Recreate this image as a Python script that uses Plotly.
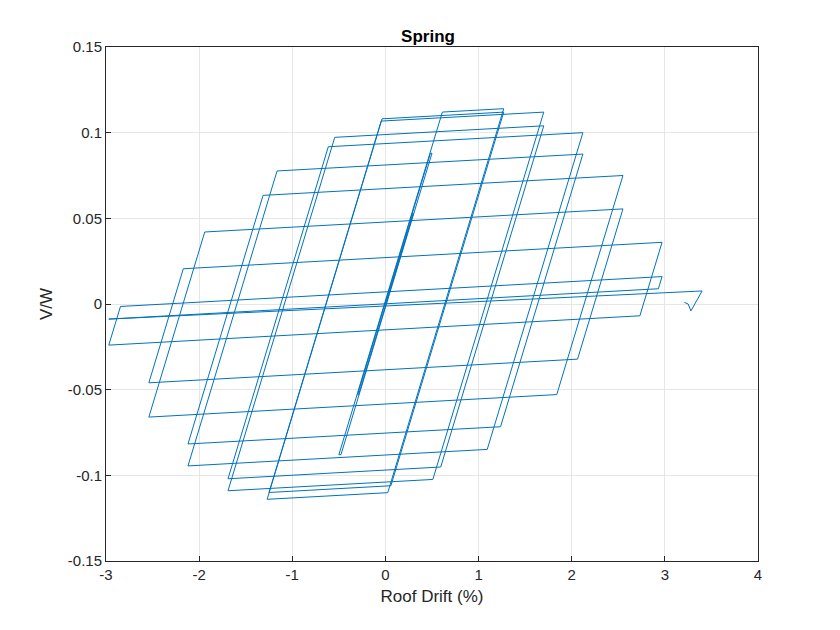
import plotly.graph_objects as go

# peak points of each half-cycle (drift %, V/W), in loading order
peak_drift = [0.3, -0.3, 0.5, -0.5,
              1.27, -1.27, 1.27, -1.25,
              1.70, -1.69, 1.70, -1.69,
              2.12, -2.12, 2.12, -2.12,
              2.55, -2.54, 2.55, -2.54,
              2.97, -2.97, 2.97, -2.97,
              3.40]
peak_v = [0.053, -0.053, 0.088, -0.088,
          0.114, -0.114, 0.112, -0.110,
          0.112, -0.109, 0.104, -0.102,
          0.100, -0.0945, 0.0875, -0.0817,
          0.075, -0.066, 0.0555, -0.046,
          0.036, -0.024, 0.016, -0.0088,
          0.0076]
tail_drift = [3.28, 3.25, 3.21]
tail_v = [-0.004, 0.0, 0.001]

K = 0.18   # elastic stiffness (V/W per % drift)
S = 0.003  # post-yield stiffness

xs, ys = [0.0], [0.0]
for xp, yp in zip(peak_drift, peak_v):
    x0, y0 = xs[-1], ys[-1]
    xi = (yp - S * xp - y0 + K * x0) / (K - S)
    if (xp - x0) * (xp - xi) > 0 and (xi - x0) * (xp - x0) > 0:
        yi = y0 + K * (xi - x0)
        xs.append(xi); ys.append(yi)
    xs.append(xp); ys.append(yp)
xs += tail_drift
ys += tail_v

fig = go.Figure(go.Scatter(x=xs, y=ys, mode="lines",
                           line=dict(color="#0072BD", width=1), showlegend=False))
axis = dict(showline=True, mirror=True, linecolor="#262626", linewidth=1,
            ticks="inside", ticklen=5, tickcolor="#262626",
            showgrid=True, gridcolor="#e6e6e6", zeroline=False,
            tickfont=dict(family="Liberation Sans, Arial", size=15, color="#262626"))
fig.update_xaxes(range=[-3, 4], tickvals=list(range(-3, 5)),
                 ticktext=[str(v) for v in range(-3, 5)],
                 title=dict(text="Roof Drift (%)", font=dict(size=17, color="#262626"), standoff=8), **axis)
fig.update_yaxes(range=[-0.15, 0.15], tickvals=[-0.15, -0.1, -0.05, 0, 0.05, 0.1, 0.15],
                 ticktext=["-0.15", "-0.1", "-0.05", "0", "0.05", "0.1", "0.15"],
                 title=dict(text="V/W", font=dict(size=17, color="#262626"), standoff=10), **axis)
fig.update_layout(width=840, height=630, plot_bgcolor="white", paper_bgcolor="white",
                  margin=dict(l=98, r=90, t=39, b=77),
                  font=dict(family="Liberation Sans, Arial", color="#262626"),
                  title=dict(text="<b>Spring</b>", x=0.5, xanchor="center", y=0.965,
                             font=dict(size=17, color="black")))
fig.write_html("out.html")
